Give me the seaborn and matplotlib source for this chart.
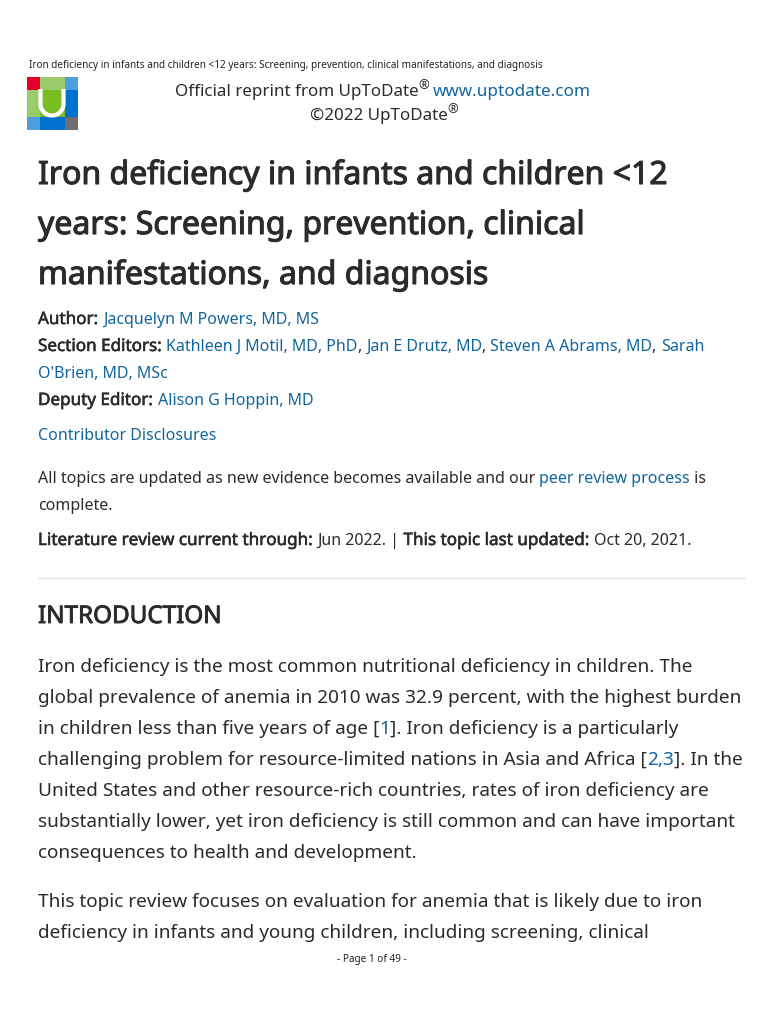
import numpy as np
import matplotlib
matplotlib.use("Agg")
import matplotlib.pyplot as plt
import matplotlib.patheffects as pe
from matplotlib.colors import ListedColormap
import seaborn as sns

sns.set_theme(style="white")
plt.rcParams['font.family'] = ['Noto Sans', 'DejaVu Sans']

INK = "#2b2b2b"
LINK = "#11659d"

# logo cells: palette index per 4x4 grid cell
logo_palette = ["#e4002b", "#9ccb6b", "#4a9fdc", "#78be20", "#0071ce", "#6d6e71"]
logo_cells = [[0, 1, 1, 2],
              [1, 3, 3, 4],
              [1, 3, 3, 4],
              [2, 4, 4, 5]]

header_text = "Iron deficiency in infants and children <12 years: Screening, prevention, clinical manifestations, and diagnosis"
title_lines = ["Iron deficiency in infants and children <12",
               "years: Screening, prevention, clinical",
               "manifestations, and diagnosis"]
# (text, style) runs: n = normal, b = bold, l = link
meta_lines = [
    (324, [("Author: ", "b"), ("Jacquelyn M Powers, MD, MS", "l")]),
    (351, [("Section Editors: ", "b"), ("Kathleen J Motil, MD, PhD", "l"), (", ", "n"),
           ("Jan E Drutz, MD", "l"), (", ", "n"), ("Steven A Abrams, MD", "l"), (", ", "n"), ("Sarah", "l")]),
    (378, [("O'Brien, MD, MSc", "l")]),
    (405, [("Deputy Editor: ", "b"), ("Alison G Hoppin, MD", "l")]),
    (440, [("Contributor Disclosures", "l")]),
    (483, [("All topics are updated as new evidence becomes available and our ", "n"),
           ("peer review process", "l"), (" is", "n")]),
    (510, [("complete.", "n")]),
    (545, [("Literature review current through: ", "b"), ("Jun 2022. | ", "n"),
           ("This topic last updated: ", "b"), ("Oct 20, 2021.", "n")]),
]
body_lines = [
    (672, [("Iron deficiency is the most common nutritional deficiency in children. The", "n")]),
    (703, [("global prevalence of anemia in 2010 was 32.9 percent, with the highest burden", "n")]),
    (734, [("in children less than five years of age [", "n"), ("1", "l"),
           ("]. Iron deficiency is a particularly", "n")]),
    (765, [("challenging problem for resource-limited nations in Asia and Africa [", "n"),
           ("2,3", "l"), ("]. In the", "n")]),
    (796, [("United States and other resource-rich countries, rates of iron deficiency are", "n")]),
    (827, [("substantially lower, yet iron deficiency is still common and can have important", "n")]),
    (858, [("consequences to health and development.", "n")]),
    (907, [("This topic review focuses on evaluation for anemia that is likely due to iron", "n")]),
    (938, [("deficiency in infants and young children, including screening, clinical", "n")]),
]

fig = plt.figure(figsize=(7.68, 10.24), dpi=100, facecolor="white")
logo_ax = fig.add_axes([27/768, 1-130/1024, 51/768, 53/1024])
sns.heatmap(np.array(logo_cells), cmap=ListedColormap(logo_palette), vmin=-0.5, vmax=5.5,
            cbar=False, ax=logo_ax, xticklabels=False, yticklabels=False)

ax = fig.add_axes([0, 0, 1, 1], zorder=5)
ax.set_xlim(0, 768); ax.set_ylim(1024, 0); ax.axis("off"); ax.patch.set_alpha(0)
renderer = fig.canvas.get_renderer()

def px(size):
    return size * 72 / 100

def runs(x, y, parts, size, bold_scale=1.067, stroke=0.55):
    for text, style in parts:
        color = LINK if style == "l" else INK
        s = size * bold_scale if style == "b" else size
        t = ax.text(x, y, text, fontsize=px(s), color=color, va="baseline", ha="left")
        if style == "b":
            t.set_path_effects([pe.withStroke(linewidth=px(stroke), foreground=color)])
        probe = ax.text(0, 0, text.replace(" ", "\u00a0"), fontsize=px(s))
        x += probe.get_window_extent(renderer).width
        probe.remove()
    return x

# logo U
th = np.linspace(np.pi, 0, 40)
ux = np.r_[40.5, 52 + 11.5*np.cos(th), 63.5]
uy = np.r_[89, 104 + 11.5*np.sin(th), 89]
ax.plot(ux, uy, color="white", lw=3.0, solid_capstyle="butt")

ax.text(29, 68, header_text, fontsize=px(9.95), color="#222222", va="baseline")
x_end = runs(175, 96, [("Official reprint from UpToDate", "n")], 17.0)
ax.text(x_end, 89, "®", fontsize=px(13), color=INK, va="baseline")
runs(432.5, 96, [("www.uptodate.com", "l")], 17.1)
x_end = runs(310, 120, [("©2022 UpToDate", "n")], 17.0)
ax.text(x_end, 113, "®", fontsize=px(13), color=INK, va="baseline")

for y, line in zip((184, 234, 284), title_lines):
    runs(38, y, [(line, "b")], 32.0, bold_scale=1.0, stroke=1.1)
for y, parts in meta_lines:
    runs(38, y, parts, 16.0)
ax.plot([38, 745], [578, 578], color="#e8e8e8", lw=1)
runs(38, 623, [("INTRODUCTION", "b")], 24.2, bold_scale=1.0, stroke=0.9)
for y, parts in body_lines:
    runs(38, y, parts, 19.0)
ax.text(372, 962, "- Page 1 of 49 -", fontsize=px(10), color="#222222", ha="center", va="baseline")

fig.savefig("out.png", dpi=100)
